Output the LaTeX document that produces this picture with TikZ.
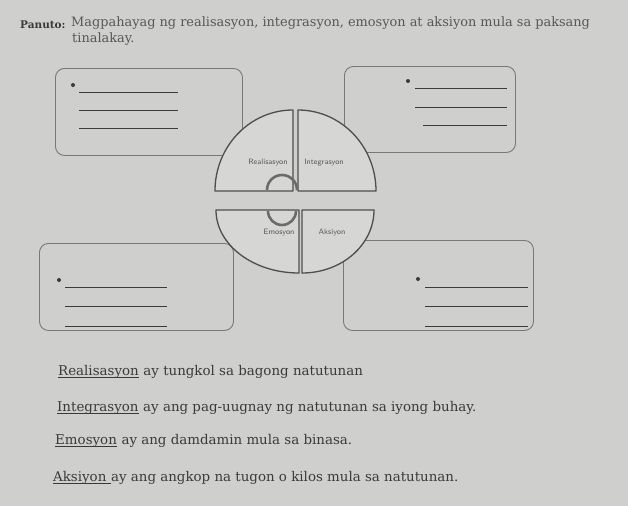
\documentclass[tikz,border=0pt]{standalone}
\usepackage{fontspec}
\setmainfont{DejaVu Serif}
\usepackage{tikz}
\usetikzlibrary{calc}
\definecolor{Paper}{RGB}{207,207,205}
\definecolor{Sheet}{RGB}{214,214,212}
\definecolor{Ink}{RGB}{58,58,58}
\definecolor{Frame}{RGB}{120,120,120}
\tikzset{%Global config
	x=1pt, y=-1pt,
	color = Ink ,
	%Styles
	Box/.style={
		draw=Frame,
		line width=0.9pt,
		rounded corners=9pt,
		fill=Paper,
		anchor=north west,
	},
	Blank/.style={
		draw=Ink,
		line width=1pt,
	},
	Dot/.style={
		fill=Ink,
		circle,
		inner sep=0pt,
		minimum size=4pt,
	},
	Piece/.style={
		draw=Ink!90,
		line width=1.3pt,
		fill=Sheet,
		line join=round,
	},
	Link/.style={
		draw=Ink!75,
		line width=2.6pt,
	},
	Tag/.style={
		font=\sffamily\fontsize{7.8}{9}\selectfont,
		inner sep=0pt,
		text=Ink!85,
	},
	Line/.style={
		anchor=base west,
		inner sep=0pt,
		font=\fontsize{13.4}{16}\selectfont,
	},
	Rule/.style={
		draw=Ink,
		line width=0.9pt,
	}
}
\begin{document}
\begin{tikzpicture}
		\useasboundingbox (0,0) rectangle (628,506);
		\fill[Paper] (0,0) rectangle (628,506);
		
		% Heading
		\node[Line, font=\bfseries\fontsize{10.5}{12}\selectfont] (Head) at (20,28) {Panuto:};
		\node[Line, font=\fontsize{12.9}{15}\selectfont, text=Ink!85] (HeadA) at (71,26) {Magpahayag ng realisasyon, integrasyon, emosyon at aksiyon mula sa paksang};
		\node[Line, font=\fontsize{12.9}{15}\selectfont, text=Ink!85] (HeadB) at (72,42) {tinalakay.};
		
		% Answer boxes
		\node[Box, minimum width=187pt, minimum height=87pt] (BoxR) at (55,68) {};
		\node[Box, minimum width=171pt, minimum height=86pt] (BoxI) at (344,66) {};
		\node[Box, minimum width=194pt, minimum height=87pt] (BoxE) at (39,243) {};
		\node[Box, minimum width=190pt, minimum height=90pt] (BoxA) at (343,240) {};
		
		\node[Dot] (DotR) at (73,85) {};
		\node[Dot] (DotI) at (408,81) {};
		\node[Dot] (DotE) at (59,280) {};
		\node[Dot] (DotA) at (418,279) {};
		
		\foreach \y in {92,110,128} \draw[Blank] (79,\y) -- (178,\y);
		\draw[Blank] (415,88) -- (507,88);
		\draw[Blank] (415,107) -- (507,107);
		\draw[Blank] (423,125) -- (507,125);
		\foreach \y in {287,306,326} \draw[Blank] (65,\y) -- (167,\y);
		\foreach \y in {287,306,326} \draw[Blank] (425,\y) -- (528,\y);
		
		% Four pieces of the circle
		\draw[Piece] (293,191) -- (215,191) arc[start angle=180, end angle=270, x radius=78, y radius=81] -- cycle;
		\draw[Piece] (298,191) -- (298,110) arc[start angle=270, end angle=360, x radius=78, y radius=81] -- cycle;
		\draw[Piece] (299,210) -- (216,210) arc[start angle=180, end angle=90, x radius=83, y radius=63] -- cycle;
		\draw[Piece] (302,210) -- (302,273) arc[start angle=90, end angle=0, x radius=72, y radius=63] -- cycle;
		
		\draw[Link] (267,190) arc[start angle=180, end angle=360, radius=15];
		\draw[Link] (268,211) arc[start angle=180, end angle=0, radius=14];
		
		\node[Tag] (TagR) at (268,163) {Realisasyon};
		\node[Tag] (TagI) at (324,163) {Integrasyon};
		\node[Tag] (TagE) at (279,233) {Emosyon};
		\node[Tag] (TagA) at (332,233) {Aksiyon};
		
		% Definitions
		\node[Line] (WordR) at (58,375) {Realisasyon};
		\node[Line] (TextR) at (WordR.base east) {\ ay tungkol sa bagong natutunan};
		\node[Line] (WordI) at (57,411) {Integrasyon};
		\node[Line] (TextI) at (WordI.base east) {\ ay ang pag-uugnay ng natutunan sa iyong buhay.};
		\node[Line] (WordE) at (55,444) {Emosyon};
		\node[Line] (TextE) at (WordE.base east) {\ ay ang damdamin mula sa binasa.};
		\node[Line] (WordA) at (53,481) {Aksiyon};
		\node[Line] (TextA) at (WordA.base east) {\ ay ang angkop na tugon o kilos mula sa natutunan.};
		
		\draw[Rule] ([yshift=-2.5pt]WordR.base west) -- ([yshift=-2.5pt]WordR.base east);
		\draw[Rule] ([yshift=-2.5pt]WordI.base west) -- ([yshift=-2.5pt]WordI.base east);
		\draw[Rule] ([yshift=-2.5pt]WordE.base west) -- ([yshift=-2.5pt]WordE.base east);
		\draw[Rule] ([yshift=-2.5pt]WordA.base west) -- ([yshift=-2.5pt,xshift=4pt]WordA.base east);
	\end{tikzpicture}
\end{document}
